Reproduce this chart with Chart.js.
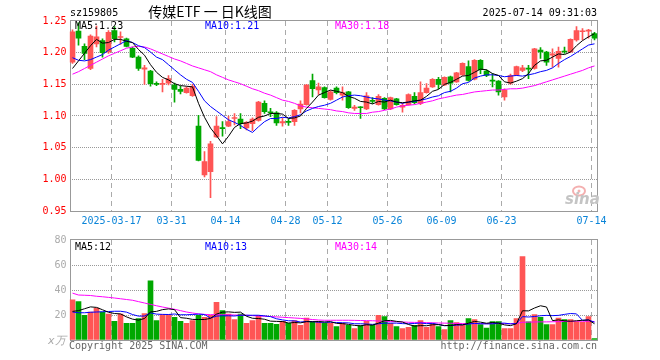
<!DOCTYPE html>
<html>
<head>
<meta charset="utf-8">
<script src="https://cdn.jsdelivr.net/npm/chart.js@4.4.1/dist/chart.umd.min.js"></script>
<style>
  html, body { margin: 0; padding: 0; background: #fff; }
  #wrap { position: relative; width: 660px; height: 360px; overflow: hidden; }
  #kline { position: absolute; left: 0; top: 0; }
  #vol { position: absolute; left: 0; top: 230px; }
</style>
</head>
<body>
<div id="wrap">
  <canvas id="kline" width="660" height="235"></canvas>
  <canvas id="vol" width="660" height="130"></canvas>
</div>
<script>
// 传媒ETF sz159805, daily K-line 2025-03-06 .. 2025-07-14

var dates = ['03-06','03-07','03-10','03-11','03-12','03-13','03-14',
  '03-17','03-18','03-19','03-20','03-21','03-24','03-25','03-26','03-27','03-28',
  '03-31','04-01','04-02','04-03','04-07','04-08','04-09','04-10','04-11',
  '04-14','04-15','04-16','04-17','04-18','04-21','04-22','04-23','04-24','04-25',
  '04-28','04-29','04-30','05-06','05-07','05-08','05-09',
  '05-12','05-13','05-14','05-15','05-16','05-19','05-20','05-21','05-22','05-23',
  '05-26','05-27','05-28','05-29','05-30','06-03','06-04','06-05','06-06',
  '06-09','06-10','06-11','06-12','06-13','06-16','06-17','06-18','06-19','06-20',
  '06-23','06-24','06-25','06-26','06-27','06-30','07-01','07-02','07-03','07-04',
  '07-07','07-08','07-09','07-10','07-11','07-14'];

var tickDates = ['03-17','03-31','04-14','04-28','05-12','05-26','06-09','06-23','07-14'];
var tickTexts = ['2025-03-17','03-31','04-14','04-28','05-12','05-26','06-09','06-23','07-14'];

var openP = [1.185,1.234,1.210,1.175,1.214,1.219,1.201,1.235,1.224,1.222,
  1.207,1.193,1.174,1.171,1.151,1.150,1.152,1.149,1.142,1.137,
  1.132,1.084,1.007,1.012,1.067,1.081,1.084,1.096,1.095,1.081,
  1.088,1.093,1.120,1.106,1.105,1.089,1.091,1.091,1.111,1.118,
  1.156,1.141,1.145,1.126,1.144,1.133,1.138,1.112,1.114,1.111,
  1.124,1.118,1.128,1.111,1.127,1.114,1.118,1.131,1.120,1.137,
  1.146,1.158,1.149,1.162,1.154,1.165,1.178,1.158,1.188,1.171,
  1.156,1.155,1.130,1.152,1.164,1.172,1.175,1.175,1.204,1.201,
  1.196,1.191,1.202,1.201,1.220,1.233,1.234,1.230];
var highP = [1.236,1.247,1.214,1.228,1.242,1.222,1.235,1.241,1.233,1.223,
  1.209,1.195,1.180,1.172,1.154,1.158,1.164,1.152,1.147,1.146,
  1.150,1.101,1.044,1.060,1.099,1.091,1.100,1.104,1.104,1.091,
  1.097,1.123,1.124,1.112,1.107,1.097,1.095,1.110,1.124,1.150,
  1.166,1.152,1.146,1.140,1.146,1.146,1.139,1.117,1.115,1.137,
  1.129,1.134,1.129,1.130,1.128,1.120,1.135,1.137,1.154,1.151,
  1.159,1.161,1.162,1.163,1.169,1.184,1.187,1.189,1.189,1.173,
  1.167,1.156,1.143,1.166,1.179,1.180,1.180,1.207,1.208,1.202,
  1.206,1.209,1.209,1.222,1.241,1.238,1.237,1.232];
var lowP = [1.183,1.212,1.189,1.173,1.209,1.193,1.199,1.217,1.213,1.209,
  1.192,1.172,1.150,1.147,1.148,1.138,1.149,1.122,1.135,1.136,
  1.131,1.029,1.004,0.971,1.066,1.068,1.083,1.086,1.080,1.078,
  1.077,1.092,1.104,1.099,1.085,1.084,1.085,1.085,1.105,1.117,
  1.130,1.134,1.128,1.125,1.135,1.125,1.112,1.109,1.096,1.110,
  1.120,1.117,1.110,1.110,1.117,1.106,1.117,1.119,1.118,1.136,
  1.145,1.143,1.148,1.138,1.153,1.164,1.155,1.157,1.167,1.162,
  1.146,1.133,1.125,1.150,1.164,1.170,1.159,1.174,1.191,1.180,
  1.177,1.177,1.199,1.200,1.218,1.220,1.223,1.220];
var closeP = [1.233,1.223,1.199,1.226,1.225,1.200,1.232,1.222,1.225,1.210,
  1.193,1.175,1.176,1.151,1.150,1.151,1.159,1.142,1.139,1.144,
  1.147,1.030,1.028,1.056,1.084,1.080,1.091,1.097,1.088,1.090,
  1.095,1.122,1.107,1.105,1.089,1.091,1.090,1.109,1.119,1.149,
  1.143,1.146,1.129,1.138,1.137,1.137,1.113,1.114,1.113,1.132,
  1.123,1.131,1.111,1.129,1.118,1.117,1.134,1.121,1.137,1.144,
  1.158,1.150,1.161,1.152,1.168,1.183,1.156,1.188,1.173,1.164,
  1.155,1.138,1.141,1.164,1.178,1.176,1.174,1.206,1.201,1.185,
  1.198,1.202,1.201,1.221,1.235,1.234,1.235,1.223];

var ma5 = [1.175,1.187,1.199,1.211,1.221,1.215,1.216,1.221,1.221,1.218,
  1.216,1.205,1.196,1.181,1.169,1.161,1.157,1.151,1.148,1.147,
  1.146,1.120,1.098,1.081,1.069,1.056,1.068,1.082,1.088,1.089,
  1.092,1.098,1.100,1.104,1.104,1.103,1.096,1.097,1.100,1.112,
  1.122,1.133,1.137,1.141,1.139,1.137,1.131,1.128,1.123,1.122,
  1.119,1.123,1.122,1.125,1.122,1.121,1.122,1.124,1.125,1.131,
  1.139,1.142,1.150,1.153,1.158,1.163,1.164,1.169,1.174,1.173,
  1.167,1.164,1.154,1.152,1.155,1.159,1.167,1.180,1.187,1.188,
  1.193,1.198,1.197,1.201,1.211,1.219,1.225,1.230];
var ma10 = [1.192,1.188,1.187,1.189,1.193,1.197,1.204,1.209,1.214,1.219,
  1.216,1.211,1.208,1.201,1.193,1.189,1.181,1.173,1.165,1.158,
  1.153,1.139,1.124,1.115,1.108,1.101,1.094,1.090,1.085,1.079,
  1.074,1.083,1.091,1.096,1.096,1.098,1.097,1.099,1.102,1.108,
  1.112,1.115,1.117,1.120,1.125,1.130,1.132,1.133,1.132,1.130,
  1.128,1.127,1.125,1.124,1.122,1.120,1.122,1.123,1.125,1.127,
  1.130,1.132,1.137,1.139,1.144,1.151,1.153,1.160,1.163,1.165,
  1.165,1.164,1.162,1.163,1.164,1.163,1.165,1.167,1.170,1.172,
  1.176,1.183,1.189,1.194,1.200,1.206,1.212,1.214];
var ma30 = [1.166,1.170,1.175,1.180,1.185,1.190,1.195,1.199,1.203,1.207,
  1.209,1.210,1.209,1.206,1.202,1.198,1.194,1.190,1.187,1.183,
  1.179,1.176,1.173,1.170,1.165,1.161,1.157,1.154,1.151,1.147,
  1.143,1.140,1.136,1.133,1.129,1.125,1.123,1.120,1.116,1.114,
  1.113,1.112,1.111,1.110,1.108,1.107,1.105,1.104,1.104,1.104,
  1.106,1.107,1.109,1.111,1.114,1.116,1.117,1.118,1.120,1.122,
  1.124,1.127,1.129,1.131,1.133,1.134,1.136,1.138,1.139,1.140,
  1.141,1.141,1.142,1.143,1.143,1.144,1.146,1.148,1.151,1.154,
  1.157,1.160,1.163,1.166,1.169,1.172,1.176,1.179];

// volume, 万手
var volume = [32.2,30.7,19.8,22.4,25.6,22.4,20.8,15.0,20.8,13.4,
  13.4,17.1,21.2,47.4,15.5,20.3,20.3,18.2,15.0,13.4,
  15.5,19.8,18.2,19.8,30.1,23.5,20.8,16.3,20.8,13.4,
  15.5,19.8,13.4,13.4,12.6,15.0,13.4,15.5,11.8,17.6,
  14.5,14.5,13.4,13.4,10.7,13.4,11.8,9.2,11.6,15.0,
  11.8,19.8,18.7,13.4,10.7,9.2,10.2,11.8,15.5,10.2,
  13.4,10.7,8.4,15.5,14.0,11.8,17.1,16.3,12.3,9.6,
  14.7,14.7,9.2,9.2,17.1,66.7,14.5,20.3,18.2,12.3,
  12.3,17.6,16.3,16.3,14.5,14.2,18.7,1.2];
var volMa5 = [22.9,23.5,25.0,26.5,26.1,24.2,22.2,21.2,20.9,18.5,
  16.7,15.9,17.2,22.5,22.9,24.3,24.9,24.3,17.9,17.4,
  16.5,16.4,16.4,17.3,20.7,22.3,22.5,22.1,22.3,19.0,
  17.4,17.2,16.6,15.1,14.9,14.8,13.6,14.0,13.7,14.7,
  14.6,14.8,14.4,14.7,13.3,13.1,12.5,11.7,11.3,12.2,
  11.9,13.5,15.4,15.7,14.9,14.4,12.4,11.1,11.5,11.4,
  12.2,12.3,11.6,11.6,12.4,12.1,13.4,14.9,14.3,13.4,
  14.0,13.5,12.1,11.5,13.0,23.4,23.3,25.6,27.4,26.4,
  15.5,16.1,15.3,15.0,15.4,15.8,16.0,13.0];
var volMa10 = [22.4,21.8,21.8,22.2,22.4,22.6,22.8,23.0,23.0,22.3,
  20.4,19.1,19.2,21.7,20.7,20.5,20.4,20.8,20.2,20.2,
  20.4,20.7,20.4,17.6,19.1,19.4,19.4,19.2,19.8,19.8,
  19.8,19.8,19.3,18.7,17.0,16.1,15.4,15.3,14.4,14.8,
  14.7,14.2,14.2,14.2,14.0,13.8,13.7,13.0,13.0,12.8,
  12.5,13.0,13.5,13.5,13.5,13.1,13.0,13.2,13.6,13.1,
  13.3,12.4,11.4,11.6,11.9,12.2,12.8,13.3,13.0,12.9,
  13.0,13.4,13.5,12.9,13.2,18.7,18.4,18.8,19.4,19.7,
  19.5,19.7,20.5,21.2,20.9,15.7,16.1,14.2];
var volMa30 = [37.5,36.0,35.8,35.6,35.0,34.6,34.1,33.6,33.0,32.4,
  31.8,30.7,29.6,28.5,27.4,26.4,25.5,24.6,23.5,22.4,
  21.6,20.9,20.5,20.3,20.3,20.2,20.1,20.0,19.9,19.8,
  19.5,19.2,19.0,18.8,18.5,18.2,17.9,17.6,17.3,16.8,
  16.4,16.0,15.8,15.8,15.8,15.8,15.8,15.7,15.6,15.5,
  15.4,15.2,15.0,14.8,14.6,14.4,14.2,14.1,14.0,13.9,
  13.8,13.6,13.5,13.4,13.3,13.2,13.1,13.1,13.1,13.1,
  13.1,13.1,13.1,13.1,13.2,14.2,14.3,14.4,14.5,14.5,
  14.6,14.7,14.8,14.9,15.0,15.0,15.0,14.8];

var MONO = '"DejaVu Sans Mono", monospace';
var UP = '#ff5555', DOWN = '#00a800';
var GRID = '#aaaaaa', NONE = 'rgba(0,0,0,0)';

var candleColors = closeP.map(function (c, i) { return c >= openP[i] ? UP : DOWN; });
var bodies = openP.map(function (o, i) { return [o, closeP[i]]; });
var wicks = lowP.map(function (l, i) { return [l, highP[i]]; });
var tickIdx = tickDates.map(function (d) { return dates.indexOf(d); });

function xGridColor(ctx) {
  return tickIdx.indexOf(ctx.index) >= 0 ? GRID : NONE;
}
function maLine(data, color) {
  return { type: 'line', data: data, borderColor: color, borderWidth: 1,
           pointRadius: 0, tension: 0, order: 0 };
}
function text(c, s, x, y, color, align, font) {
  c.fillStyle = color;
  c.textAlign = align || 'left';
  c.font = font || '10px ' + MONO;
  c.fillText(s, x, y);
}
function frame(chart) {
  var a = chart.chartArea, c = chart.ctx;
  c.save();
  c.strokeStyle = '#999';
  c.lineWidth = 1;
  var l = Math.round(a.left) + 0.5, t = Math.round(a.top) - 0.5;
  var r = Math.round(a.right) - 0.5, b = Math.round(a.bottom) + 0.5;
  c.strokeRect(l, t, r - l, b - t);
  c.restore();
}

var pricePaint = {
  id: 'pricePaint',
  beforeDatasetsDraw: function (chart) {
    var c = chart.ctx;
    frame(chart);
    // sina watermark
    c.save();
    c.strokeStyle = '#f4b0b0';
    c.lineWidth = 2;
    c.beginPath();
    c.ellipse(579, 191, 6, 4.5, 0, 0, Math.PI * 2);
    c.stroke();
    c.fillStyle = '#f4b0b0';
    c.beginPath();
    c.arc(579, 191, 1.5, 0, Math.PI * 2);
    c.fill();
    text(c, 'sina', 565, 204, '#c4c4c4', 'left', 'italic bold 15px "DejaVu Sans"');
    c.restore();
  },
  afterDraw: function (chart) {
    var c = chart.ctx;
    c.save();
    c.textBaseline = 'middle';
    text(c, 'sz159805', 70, 13, '#000');
    text(c, '2025-07-14 09:31:03', 597, 13, '#000', 'right');
    text(c, '传媒ETF 一 日K线图', 210, 12, '#000', 'center', '14px "Noto Sans CJK SC"');
    text(c, 'MA5:1.23', 75, 26, '#000');
    text(c, 'MA10:1.21', 205, 26, '#0000ff');
    text(c, 'MA30:1.18', 335, 26, '#ff00ff');
    c.restore();
  }
};

var volPaint = {
  id: 'volPaint',
  beforeDatasetsDraw: frame,
  afterDraw: function (chart) {
    var c = chart.ctx;
    c.save();
    c.textBaseline = 'middle';
    text(c, 'MA5:12', 75, 17, '#000');
    text(c, 'MA10:13', 205, 17, '#0000ff');
    text(c, 'MA30:14', 335, 17, '#ff00ff');
    text(c, 'x万', 48, 111, '#aaa', 'left', 'italic 11px "DejaVu Sans"');
    text(c, 'Copyright 2025 SINA.COM', 69, 116, '#666');
    text(c, 'http://finance.sina.com.cn', 597, 116, '#666', 'right');
    c.restore();
  }
};

new Chart(document.getElementById('kline'), {
  type: 'bar',
  data: {
    labels: dates,
    datasets: [
      maLine(ma5, '#000000'),
      maLine(ma10, '#0000ff'),
      maLine(ma30, '#ff00ff'),
      { data: bodies, backgroundColor: candleColors, barThickness: 5, minBarLength: 1,
        grouped: false, order: 1 },
      { data: wicks, backgroundColor: candleColors, barThickness: 1,
        grouped: false, order: 2 }
    ]
  },
  options: {
    responsive: false,
    animation: false,
    layout: { padding: { top: 21, right: 62.5, left: 0, bottom: 0 } },
    plugins: { legend: { display: false }, tooltip: { enabled: false } },
    scales: {
      x: {
        offset: true,
        grid: { offset: true, color: xGridColor, drawTicks: false },
        border: { display: false, dash: [5, 4] },
        ticks: {
          autoSkip: false, maxRotation: 0, minRotation: 0, labelOffset: -3, padding: 4,
          color: '#0a84d8', font: { family: MONO, size: 10 },
          callback: function (v, i) { var k = tickIdx.indexOf(i); return k >= 0 ? tickTexts[k] : ''; }
        },
        afterFit: function (s) { s.height = 24; }
      },
      y: {
        min: 0.95, max: 1.25,
        grid: {
          drawTicks: false,
          color: function (ctx) {
            var v = ctx.tick ? ctx.tick.value : 0;
            return (Math.abs(v - 1.25) < 1e-6 || Math.abs(v - 0.95) < 1e-6) ? NONE : '#999';
          }
        },
        border: { display: false, dash: [1, 1] },
        ticks: {
          stepSize: 0.05, padding: 3, color: '#ff0000', font: { family: MONO, size: 10 },
          callback: function (v) { return v.toFixed(2); }
        },
        afterFit: function (s) { s.width = 69.5; }
      }
    }
  },
  plugins: [pricePaint]
});

new Chart(document.getElementById('vol'), {
  type: 'bar',
  data: {
    labels: dates,
    datasets: [
      maLine(volMa5, '#000000'),
      maLine(volMa10, '#0000ff'),
      maLine(volMa30, '#ff00ff'),
      { data: volume, backgroundColor: candleColors, barThickness: 5, order: 1 }
    ]
  },
  options: {
    responsive: false,
    animation: false,
    layout: { padding: { top: 10, right: 62.5, left: 0, bottom: 0 } },
    plugins: { legend: { display: false }, tooltip: { enabled: false } },
    scales: {
      x: {
        offset: true,
        grid: { offset: true, color: xGridColor, drawTicks: false },
        border: { display: false, dash: [5, 4] },
        ticks: { display: false, autoSkip: false },
        afterFit: function (s) { s.height = 20; }
      },
      y: {
        min: 0, max: 80,
        grid: {
          drawTicks: false,
          color: function (ctx) {
            var v = ctx.tick ? ctx.tick.value : 0;
            return (v === 0 || v === 80) ? NONE : '#999';
          }
        },
        border: { display: false, dash: [1, 1] },
        ticks: {
          stepSize: 20, padding: 3, color: '#aaa', font: { family: MONO, size: 10 },
          callback: function (v) { return v === 0 ? '' : v; }
        },
        afterFit: function (s) { s.width = 69.5; }
      }
    }
  },
  plugins: [volPaint]
});
</script>
</body>
</html>
